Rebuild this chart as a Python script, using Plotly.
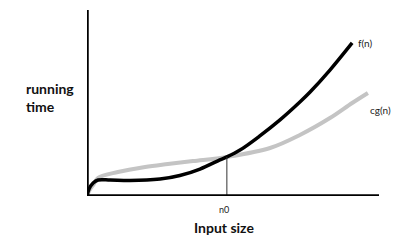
import plotly.graph_objects as go

# Input size (conceptual units)
n_f = [0.0, 0.07, 0.21, 0.38, 0.79, 1.47, 2.50, 3.18, 3.87, 4.55, 4.79, 5.24, 5.92, 6.61, 7.29, 7.64, 8.32, 9.08]
f_values = [0.0, 0.38, 0.70, 0.86, 0.86, 0.83, 0.91, 1.10, 1.45, 1.94, 2.10, 2.47, 3.23, 4.09, 5.05, 5.59, 6.77, 8.23]

n_g = [0.0, 0.07, 0.21, 0.38, 1.06, 1.99, 2.77, 3.63, 4.79, 6.27, 7.29, 8.32, 9.08, 9.62]
cg_values = [0.0, 0.27, 0.59, 0.97, 1.29, 1.56, 1.72, 1.88, 2.10, 2.58, 3.28, 4.19, 5.00, 5.54]

n0 = 4.79
n0_value = 2.10

fig = go.Figure()
fig.add_trace(go.Scatter(x=n_g, y=cg_values, mode="lines",
                         line=dict(color="#c4c4c4", width=4, shape="spline"),
                         hoverinfo="skip", cliponaxis=False))
fig.add_trace(go.Scatter(x=n_f, y=f_values, mode="lines",
                         line=dict(color="black", width=3.5, shape="spline"),
                         hoverinfo="skip", cliponaxis=False))
fig.add_trace(go.Scatter(x=[n0, n0], y=[0, n0_value], mode="lines",
                         line=dict(color="#333333", width=1),
                         hoverinfo="skip"))

# axes as thick lines
fig.add_shape(type="line", x0=-0.14, y0=0, x1=10, y1=0,
              line=dict(color="black", width=3.5))
fig.add_shape(type="line", x0=0, y0=-0.1, x1=0, y1=10,
              line=dict(color="black", width=3.5))

fig.add_annotation(x=9.2, y=8.25, text="f(n)", showarrow=False, xanchor="left",
                   font=dict(family="Lato", size=10, color="#222"))
fig.add_annotation(x=9.62, y=4.62, text="cg(n)", showarrow=False, xanchor="left",
                   font=dict(family="Lato", size=10, color="#222"))
fig.add_annotation(x=n0 - 0.1, yref="paper", y=-0.075, yanchor="middle", text="n0",
                   showarrow=False, font=dict(family="Lato", size=9, color="#222"))
fig.add_annotation(x=4.69, yref="paper", y=-0.172, yanchor="middle", text="Input size",
                   showarrow=False,
                   font=dict(family="Lato", size=14, color="#111", weight="bold"))
fig.add_annotation(xref="paper", x=-0.215, y=5.3, text="running<br>time",
                   showarrow=False, xanchor="left", align="left",
                   font=dict(family="Lato", size=14, color="#111", weight="bold"))

fig.update_xaxes(range=[0, 10], showgrid=False, zeroline=False, showline=False,
                 showticklabels=False, ticks="")
fig.update_yaxes(range=[0, 10], showgrid=False, zeroline=False, showline=False,
                 showticklabels=False, ticks="")
fig.update_layout(width=418, height=241, margin=dict(l=87, r=39, t=10, b=45),
                  plot_bgcolor="white", paper_bgcolor="white", showlegend=False)

fig.write_html("out.html")
